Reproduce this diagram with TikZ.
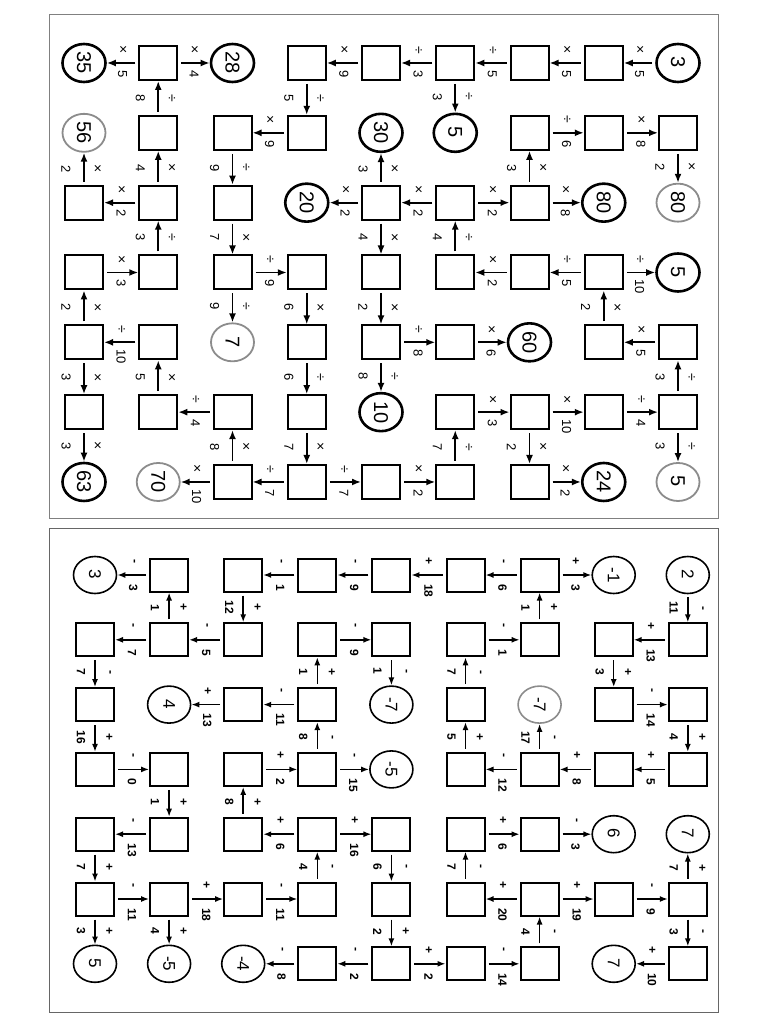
\documentclass[tikz,border=0pt]{standalone}
\usepackage{fontspec}
\setmainfont{Liberation Sans}
\usetikzlibrary{arrows.meta,shapes.geometric,calc}
\newcommand{\turn}[1]{\rotatebox[origin=c]{-90}{#1}}
\begin{document}
\begin{tikzpicture}
  [x=1pt,y=-1pt,every node/.style={inner sep=0pt}]
  \tikzstyle{box} = [draw,rectangle,line width=2pt,minimum width=38pt,minimum height=34pt]
  \tikzstyle{ring} = [draw,ellipse,line width=2.6pt,minimum width=43pt,minimum height=38pt,font=\fontsize{20}{20}\selectfont]
  \tikzstyle{pale} = [draw=black!45,line width=1.8pt]
  \tikzstyle{arr} = [line width=1.7pt,-{Latex[length=9pt,width=7pt]},shorten <=3pt]
  \tikzstyle{lab} = [rotate=-90,font=\fontsize{13}{13}\selectfont]
  \tikzstyle{oplab} = [rotate=-90,font=\fontsize{14}{14}\selectfont]
  \tikzstyle{boxb} = [draw,rectangle,line width=2pt,minimum width=38pt,minimum height=33pt]
  \tikzstyle{ringb} = [draw,ellipse,line width=1.6pt,minimum width=43pt,minimum height=37pt,font=\fontsize{17}{17}\selectfont]
  \tikzstyle{arrb} = [line width=1.5pt,-{Latex[length=8pt,width=6pt]},shorten <=3pt]
  \tikzstyle{labb} = [rotate=-90,font=\fontsize{12}{12}\selectfont\bfseries]
  \useasboundingbox (0,0) rectangle (768,1024);
  % upper panel: times and divide
  \draw[black!50,line width=1pt] (49,14.5) rectangle (718.5,518);
  \foreach \r/\cols in {1/{2,4,5,6,7,8},2/{2,3,4,7,8,9},3/{1,2,3,5,6,7},4/{1,2,3,4,5,6,7,8},
                        5/{1,2,4,5,6,8,9},6/{1,2,3,4,6,7,8,9},7/{3,4,5,6,7}}
    \foreach \c in \cols
      \node[box] (a\r\c) at ({84+74.25*(\c-1)},{63+69.83*(\r-1)}) {};
  \foreach \r/\c/\val in {1/1/35,1/3/28,1/9/3,2/5/30,2/6/5,3/4/20,3/8/80,4/9/5,5/7/60,6/5/10,7/1/63,7/8/24}
    \node[ring] (a\r\c) at ({84+74.25*(\c-1)},{63+69.83*(\r-1)}) {\turn{\val}};
  \foreach \r/\c/\val in {2/1/56,3/9/80,5/3/7,7/2/70,7/9/5}
    \node[ring,pale] (a\r\c) at ({84+74.25*(\c-1)},{63+69.83*(\r-1)}) {\turn{\val}};
  \foreach \source/\dest/\op/\num in {a12/a11/×/5,a12/a13/×/4,a15/a14/×/9,a16/a15/÷/3,a17/a16/÷/5,
      a18/a17/×/5,a19/a18/×/5,a24/a23/×/9,a27/a28/÷/6,a28/a29/×/8,a32/a31/×/2,a35/a34/×/2,
      a36/a35/×/2,a36/a37/×/2,a37/a38/×/8,a41/a42/×/3,a43/a44/÷/9,a47/a46/×/2,a48/a47/÷/5,
      a48/a49/÷/10,a52/a51/÷/10,a55/a56/÷/8,a56/a57/×/6,a59/a58/×/5,a63/a62/÷/4,a66/a67/×/3,
      a67/a68/×/10,a68/a69/÷/4,a73/a72/×/10,a74/a73/÷/7,a74/a75/÷/7,a75/a76/×/2,a77/a78/×/2}
   {\draw[arr] (\source) -- coordinate (m) (\dest);
    \node[oplab] at ([yshift=13pt]m) {\op};
    \node[lab,anchor=west] at ([yshift=-7pt]m) {\num};}
  \foreach \source/\dest/\op/\num in {a22/a12/÷/8,a14/a24/÷/5,a16/a26/÷/3,a31/a21/×/2,a32/a22/×/4,
      a23/a33/÷/9,a35/a25/×/3,a37/a27/×/3,a29/a39/×/2,a42/a32/÷/3,a33/a43/×/7,a35/a45/×/4,
      a46/a36/÷/4,a51/a41/×/2,a43/a53/÷/9,a44/a54/×/6,a45/a55/×/2,a58/a48/×/2,a51/a61/×/3,
      a62/a52/×/5,a54/a64/÷/6,a55/a65/÷/8,a69/a59/÷/3,a61/a71/×/3,a73/a63/×/8,a64/a74/×/7,
      a76/a66/÷/7,a67/a77/×/2,a69/a79/÷/3}
   {\draw[arr] (\source) -- coordinate (m) (\dest);
    \node[lab] at ([xshift=-18pt]m) {\num};
    \node[oplab] at ([xshift=13pt]m) {\op};}
  % lower panel: plus and minus
  \draw[black!60,line width=1pt] (49,528.5) rectangle (718.5,1012);
  \foreach \r/\cols in {1/{2,3,4,5,6,7},2/{1,2,3,4,5,6,7,8,9},3/{1,3,4,6,8,9},4/{1,2,3,4,6,7,8,9},
                        5/{1,2,3,4,5,6,7},6/{1,2,3,4,5,6,7,8,9},7/{4,5,6,7,9}}
    \foreach \c in \cols
      \node[boxb] (b\r\c) at ({95+74.1*(\c-1)},{575+64.8*(\r-1)}) {};
  \foreach \r/\c/\val in {1/1/3,1/8/-1,1/9/2,3/2/4,3/5/-7,4/5/-5,5/8/6,5/9/7,7/1/5,7/2/-5,7/3/-4,7/8/7}
    \node[ringb] (b\r\c) at ({95+74.1*(\c-1)},{575+64.8*(\r-1)}) {\turn{\val}};
  \node[ringb,draw=black!45] (b37) at ({95+74.1*6},{575+64.8*2}) {\turn{-7}};
  \foreach \source/\dest/\op/\num in {b12/b11/-/3,b14/b13/-/1,b15/b14/-/9,b16/b15/+/18,b17/b16/-/6,
      b17/b18/+/3,b22/b21/-/7,b23/b22/-/5,b24/b25/-/9,b26/b27/-/1,b29/b28/+/13,b33/b32/+/13,
      b34/b33/-/11,b38/b39/-/14,b41/b42/-/0,b43/b44/+/2,b44/b45/-/15,b47/b46/-/12,b48/b47/+/8,
      b49/b48/+/5,b52/b51/-/13,b54/b53/+/6,b54/b55/+/16,b56/b57/+/6,b57/b58/-/3,b61/b62/-/11,
      b62/b63/+/18,b63/b64/-/11,b67/b66/+/20,b67/b68/+/19,b68/b69/-/9,b74/b73/-/8,b75/b74/-/2,
      b75/b76/+/2,b76/b77/-/14,b79/b78/+/10}
   {\draw[arrb] (\source) -- coordinate (m) (\dest);
    \node[labb] at ([yshift=14pt]m) {\op};
    \node[labb,anchor=west] at ([yshift=-9pt]m) {\num};}
  \foreach \source/\dest/\op/\num in {b22/b12/+/1,b13/b23/+/12,b27/b17/+/1,b19/b29/-/11,b21/b31/-/7,
      b34/b24/+/1,b25/b35/-/1,b36/b26/-/7,b28/b38/+/3,b31/b41/+/16,b44/b34/-/8,b46/b36/+/5,
      b47/b37/-/17,b39/b49/+/4,b42/b52/+/1,b53/b43/+/8,b51/b61/+/7,b64/b54/-/4,b55/b65/-/6,
      b66/b56/-/7,b69/b59/+/7,b61/b71/+/3,b62/b72/+/4,b65/b75/+/2,b77/b67/-/4,b69/b79/-/3}
   {\draw[arrb] (\source) -- coordinate (m) (\dest);
    \node[labb] at ([xshift=-14pt]m) {\num};
    \node[labb] at ([xshift=14pt]m) {\op};}
\end{tikzpicture}
\end{document}
